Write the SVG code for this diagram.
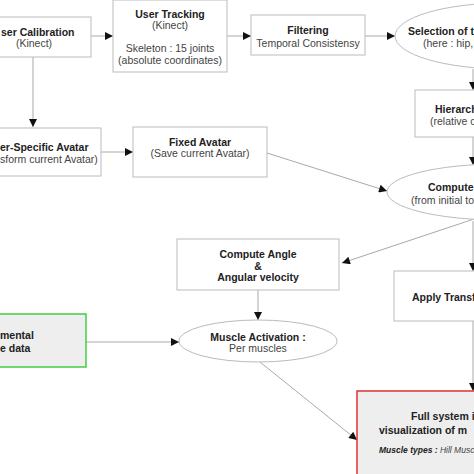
<svg xmlns="http://www.w3.org/2000/svg" width="474" height="474" viewBox="0 0 474 474">
<style>
.box{fill:#fff;stroke:#bbb;stroke-width:1}
.ell{fill:#fff;stroke:#bbb;stroke-width:1}
.t{font-family:"Liberation Sans",Arial,sans-serif;font-size:10.5px;fill:#222;font-weight:bold;text-anchor:middle}
.s{font-family:"Liberation Sans",Arial,sans-serif;font-size:10.5px;fill:#444;text-anchor:middle}
.st{text-anchor:start}
.c{fill:none;stroke:#aaa;stroke-width:1;marker-end:url(#ah)}
</style>
<defs>
<marker id="ah" viewBox="0 0 10 10" refX="10" refY="5" markerWidth="11" markerHeight="8" orient="auto" markerUnits="userSpaceOnUse">
<path d="M0,0L10,5L0,10z" fill="#111"/>
</marker>
</defs>
<rect width="474" height="474" fill="#fff"/>
<g id="connectors">
<path class="c" d="M91,36H113"/>
<path class="c" d="M227,36H251"/>
<path class="c" d="M365,36H395"/>
<path class="c" d="M33,57V127"/>
<path class="c" d="M101,152H133"/>
<path class="c" d="M267,153L387,191"/>
<path class="c" d="M473,69V90"/>
<path class="c" d="M473,137V165"/>
<path class="c" d="M474,219L342,263"/>
<path class="c" d="M473,221V271"/>
<path class="c" d="M258,290V320"/>
<path class="c" d="M86,342H179"/>
<path class="c" d="M260,362L357,440"/>
<path class="c" d="M473,321V391"/>
</g>
<g id="calibration">
<rect class="box" x="-23" y="17" width="114" height="40"/>
<text class="t st" x="1" y="36">ser Calibration</text>
<text class="s" x="34" y="47">(Kinect)</text>
</g>
<g id="tracking">
<rect class="box" x="113" y="0" width="114" height="72"/>
<text class="t" x="170" y="18">User Tracking</text>
<text class="s" x="170" y="29">(Kinect)</text>
<text class="s" x="170" y="52">Skeleton : 15 joints</text>
<text class="s" x="170" y="64">(absolute coordinates)</text>
</g>
<g id="filtering">
<rect class="box" x="251" y="15" width="114" height="40"/>
<text class="t" x="308" y="34">Filtering</text>
<text class="s" x="308" y="47">Temporal Consistensy</text>
</g>
<g id="selection">
<ellipse class="ell" cx="505" cy="36" rx="110" ry="33"/>
<text class="t st" x="408" y="35">Selection of th</text>
<text class="s st" x="423" y="47">(here : hip,</text>
</g>
<g id="hierarchical">
<rect class="box" x="415" y="90" width="80" height="47"/>
<text class="t st" x="435" y="113">Hierarch</text>
<text class="s st" x="430" y="125">(relative co</text>
</g>
<g id="userspecific">
<rect class="box" x="-20" y="128" width="121" height="48"/>
<text class="t st" x="0" y="151">er-Specific Avatar</text>
<text class="s st" x="0" y="163">sform current Avatar)</text>
</g>
<g id="fixed">
<rect class="box" x="133" y="127" width="134" height="50"/>
<text class="t" x="200" y="146">Fixed Avatar</text>
<text class="s" x="200" y="157">(Save current Avatar)</text>
</g>
<g id="compute">
<ellipse class="ell" cx="500" cy="192" rx="113" ry="28"/>
<text class="t st" x="428" y="191">Compute</text>
<text class="s st" x="411" y="204">(from initial to</text>
</g>
<g id="angle">
<rect class="box" x="177" y="239" width="162" height="51"/>
<text class="t" x="258" y="258">Compute Angle</text>
<text class="t" x="258" y="270">&amp;</text>
<text class="t" x="258" y="281">Angular velocity</text>
</g>
<g id="apply">
<rect class="box" x="394" y="271" width="100" height="50"/>
<text class="t st" x="412" y="301">Apply Transf</text>
</g>
<g id="experimental">
<rect x="-30" y="314" width="116" height="53" fill="#eee" stroke="#4c4" stroke-width="1.5"/>
<text class="t st" x="0" y="339">mental</text>
<text class="t st" x="0" y="352">e data</text>
</g>
<g id="muscle">
<ellipse class="ell" cx="258" cy="341" rx="79" ry="21"/>
<text class="t" x="258" y="341">Muscle Activation :</text>
<text class="s" x="258" y="352">Per muscles</text>
</g>
<g id="fullsystem">
<rect x="357" y="391" width="130" height="95" fill="#eee" stroke="#d33" stroke-width="1.5"/>
<text class="t st" x="411" y="420">Full system i</text>
<text class="t st" x="379" y="434">visualization of m</text>
<text class="s st" x="379" y="453" style="font-size:8.5px;font-style:italic"><tspan font-weight="bold" fill="#222">Muscle types : </tspan>Hill Musc</text>
</g>
</svg>
